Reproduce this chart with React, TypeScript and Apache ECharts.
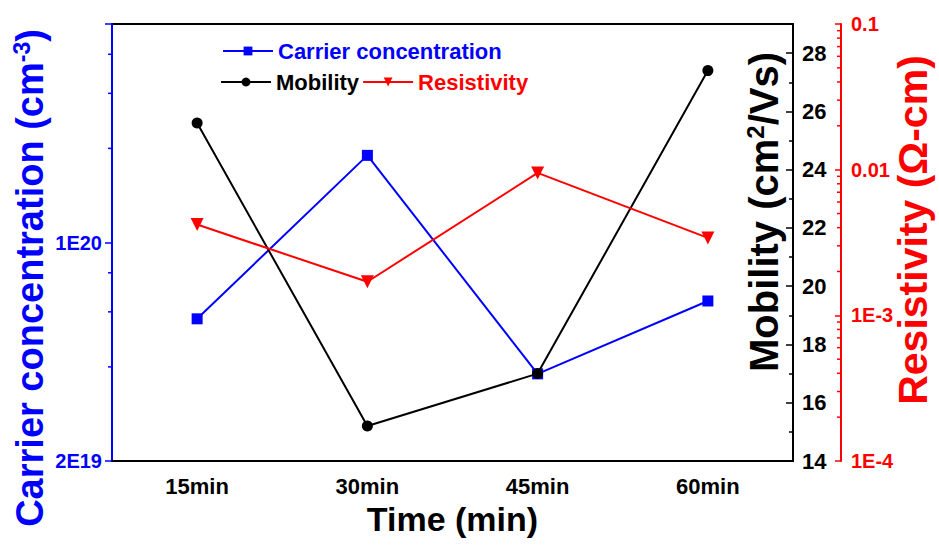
import React, { useEffect, useRef } from 'react';
import * as echarts from 'echarts';

// ---- data ----
const categories = ['15min', '30min', '45min', '60min'];
const carrier = [5.7e19, 1.9e20, 3.8e19, 6.5e19];
const mobility = [25.6, 15.2, 17.0, 27.4];
const resistivity = [4.2e-3, 1.7e-3, 9.5e-3, 3.4e-3];

// ---- axis ticks / labels ----
const carrierLabelValues = [2e19, 1e20];
const carrierLabelTexts = ['2E19', '1E20'];
const carrierMinorTicks = [4e19, 6e19, 8e19, 2e20, 3e20, 4e20];
const resistivityLabelValues = [1e-4, 1e-3, 1e-2, 1e-1];
const resistivityLabelTexts = ['1E-4', '1E-3', '0.01', '0.1'];
const resistivityMinorTicks = [
  2e-4, 3e-4, 4e-4, 5e-4, 6e-4, 7e-4, 8e-4, 9e-4,
  2e-3, 3e-3, 4e-3, 5e-3, 6e-3, 7e-3, 8e-3, 9e-3,
  2e-2, 3e-2, 4e-2, 5e-2, 6e-2, 7e-2, 8e-2, 9e-2,
];

const BLUE = '#0000ff';
const RED = '#ff0000';
const BLACK = '#000000';
const FONT = "'Liberation Sans', Arial, Helvetica, sans-serif";
const RED_OFFSET = 48;

function logLabel(values: number[], texts: string[]) {
  return (v: number) => {
    for (let i = 0; i < values.length; i++) {
      if (Math.abs(Math.log10(v) - Math.log10(values[i])) < 1e-6) return texts[i];
    }
    return '';
  };
}

export default function App() {
  const ref = useRef<HTMLDivElement>(null);
  useEffect(() => {
    if (!ref.current) return;
    const chart = echarts.init(ref.current, undefined, { renderer: 'svg' });
    const legendText = { fontSize: 22, fontWeight: 'bold', fontFamily: FONT };
    const option: any = {
      animation: false,
      backgroundColor: '#ffffff',
      grid: {
        left: 112, right: 146, top: 24, bottom: 84,
        outerBoundsMode: 'none', containLabel: false,
        show: true, borderColor: BLACK, borderWidth: 2, backgroundColor: 'transparent',
      },
      legend: [
        {
          data: [{ name: 'Carrier concentration', textStyle: { color: BLUE } }],
          left: 222, top: 40, padding: 0, itemWidth: 50, itemHeight: 11, itemGap: 5,
          selectedMode: false, lineStyle: { width: 2 },
          textStyle: legendText,
        },
        {
          data: [
            { name: 'Mobility', textStyle: { color: BLACK } },
            { name: 'Resistivity', textStyle: { color: RED } },
          ],
          left: 220, top: 71, padding: 0, itemWidth: 50, itemHeight: 11, itemGap: 3,
          selectedMode: false, lineStyle: { width: 2 },
          textStyle: legendText,
        },
      ],
      xAxis: [
        {
          type: 'category', data: categories, boundaryGap: true, position: 'bottom',
          axisLine: { lineStyle: { color: BLACK, width: 2 } },
          axisTick: { alignWithLabel: true, length: 6, lineStyle: { color: BLACK, width: 1.5 } },
          axisLabel: { color: BLACK, fontSize: 22, fontWeight: 'bold', fontFamily: FONT, margin: 14 },
          splitLine: { show: false },
          name: 'Time (min)', nameLocation: 'middle', nameGap: 40,
          nameTextStyle: { color: BLACK, fontSize: 34, fontWeight: 'bold', fontFamily: FONT },
        },
        {
          type: 'category', data: categories, boundaryGap: true, position: 'bottom',
          axisLine: { show: false },
          axisTick: { length: 4, lineStyle: { color: BLACK, width: 1.5 } },
          axisLabel: { show: false },
          splitLine: { show: false },
        },
      ],
      yAxis: [
        {
          type: 'log', logBase: 10, min: 2e19, max: 5e20, position: 'left',
          axisLine: { show: true, lineStyle: { color: BLUE, width: 2 } },
          axisTick: { show: true, length: 7, lineStyle: { color: BLUE, width: 1.5 } },
          axisLabel: {
            color: BLUE, fontSize: 20, fontWeight: 'bold', fontFamily: FONT, margin: 10,
            formatter: logLabel(carrierLabelValues, carrierLabelTexts),
          },
          splitLine: { show: false },
        },
        {
          type: 'value', min: 14, max: 29, interval: 2, position: 'right',
          axisLine: { show: true, lineStyle: { color: BLACK, width: 2 } },
          axisTick: { show: true, inside: true, length: 7, lineStyle: { color: BLACK, width: 1.5 } },
          minorTick: { show: true, splitNumber: 2, length: 4, lineStyle: { color: BLACK, width: 1.5 } },
          axisLabel: {
            color: BLACK, fontSize: 22, fontWeight: 'bold', fontFamily: FONT, margin: 9,
            formatter: (v: number) => (v > 28.5 ? '' : String(v)),
          },
          splitLine: { show: false }, minorSplitLine: { show: false },
        },
        {
          type: 'log', logBase: 10, min: 1e-4, max: 0.1, position: 'right', offset: RED_OFFSET,
          axisLine: { show: true, lineStyle: { color: RED, width: 2 } },
          axisTick: { show: true, inside: true, length: 6, lineStyle: { color: RED, width: 1.5 } },
          axisLabel: {
            color: RED, fontSize: 20, fontWeight: 'bold', fontFamily: FONT, margin: 10,
            formatter: logLabel(resistivityLabelValues, resistivityLabelTexts),
          },
          splitLine: { show: false },
        },
      ],
      graphic: [
        {
          type: 'text', x: 30, y: 278, rotation: Math.PI / 2,
          style: {
            text: '{t|Carrier concentration (cm}{s|-3}{t|)}',
            align: 'center', verticalAlign: 'middle',
            rich: {
              t: { fontSize: 38, fontWeight: 'bold', fontFamily: FONT, fill: BLUE },
              s: { fontSize: 23, fontWeight: 'bold', fontFamily: FONT, fill: BLUE, padding: [0, 0, 17, 0] },
            },
          },
        },
        {
          type: 'text', x: 764, y: 212, rotation: Math.PI / 2,
          style: {
            text: '{t|Mobility (cm}{s|2}{t|/Vs)}',
            align: 'center', verticalAlign: 'middle',
            rich: {
              t: { fontSize: 40, fontWeight: 'bold', fontFamily: FONT, fill: BLACK },
              s: { fontSize: 24, fontWeight: 'bold', fontFamily: FONT, fill: BLACK, padding: [0, 0, 18, 0] },
            },
          },
        },
        {
          type: 'text', x: 913, y: 230, rotation: Math.PI / 2,
          style: {
            text: 'Resistivity (Ω-cm)',
            align: 'center', verticalAlign: 'middle',
            fontSize: 41, fontWeight: 'bold', fontFamily: FONT, fill: RED,
          },
        },
      ],
      series: [
        {
          name: 'Carrier concentration', type: 'line', xAxisIndex: 0, yAxisIndex: 0,
          data: carrier, symbol: 'rect', symbolSize: 11,
          lineStyle: { color: BLUE, width: 2 }, itemStyle: { color: BLUE }, z: 3,
        },
        {
          name: 'Mobility', type: 'line', xAxisIndex: 0, yAxisIndex: 1,
          data: mobility, symbol: 'circle', symbolSize: 11,
          lineStyle: { color: BLACK, width: 2 }, itemStyle: { color: BLACK }, z: 4,
        },
        {
          name: 'Resistivity', type: 'line', xAxisIndex: 0, yAxisIndex: 2,
          data: resistivity, symbol: 'triangle', symbolRotate: 180, symbolSize: 13,
          lineStyle: { color: RED, width: 2 }, itemStyle: { color: RED }, z: 5,
        },
        {
          type: 'custom', xAxisIndex: 0, yAxisIndex: 0, silent: true, clip: false,
          data: carrierMinorTicks.map((v) => [0, v]),
          encode: { x: 0, y: 1 },
          renderItem: (params: any, api: any) => {
            const cs = params.coordSys;
            const y = api.coord([api.value(0), api.value(1)])[1];
            return {
              type: 'line',
              shape: { x1: cs.x, y1: y, x2: cs.x - 4, y2: y },
              style: { stroke: BLUE, lineWidth: 1.5 },
            };
          },
        },
        {
          type: 'custom', xAxisIndex: 0, yAxisIndex: 2, silent: true, clip: false,
          data: resistivityMinorTicks.map((v) => [0, v]),
          encode: { x: 0, y: 1 },
          renderItem: (params: any, api: any) => {
            const cs = params.coordSys;
            const y = api.coord([api.value(0), api.value(1)])[1];
            const ax = cs.x + cs.width + RED_OFFSET;
            return {
              type: 'line',
              shape: { x1: ax, y1: y, x2: ax - 4, y2: y },
              style: { stroke: RED, lineWidth: 1.5 },
            };
          },
        },
      ],
    };
    chart.setOption(option);
    return () => chart.dispose();
  }, []);
  return <div ref={ref} style={{ width: 939, height: 545, position: 'absolute', left: 0, top: 0 }} />;
}
